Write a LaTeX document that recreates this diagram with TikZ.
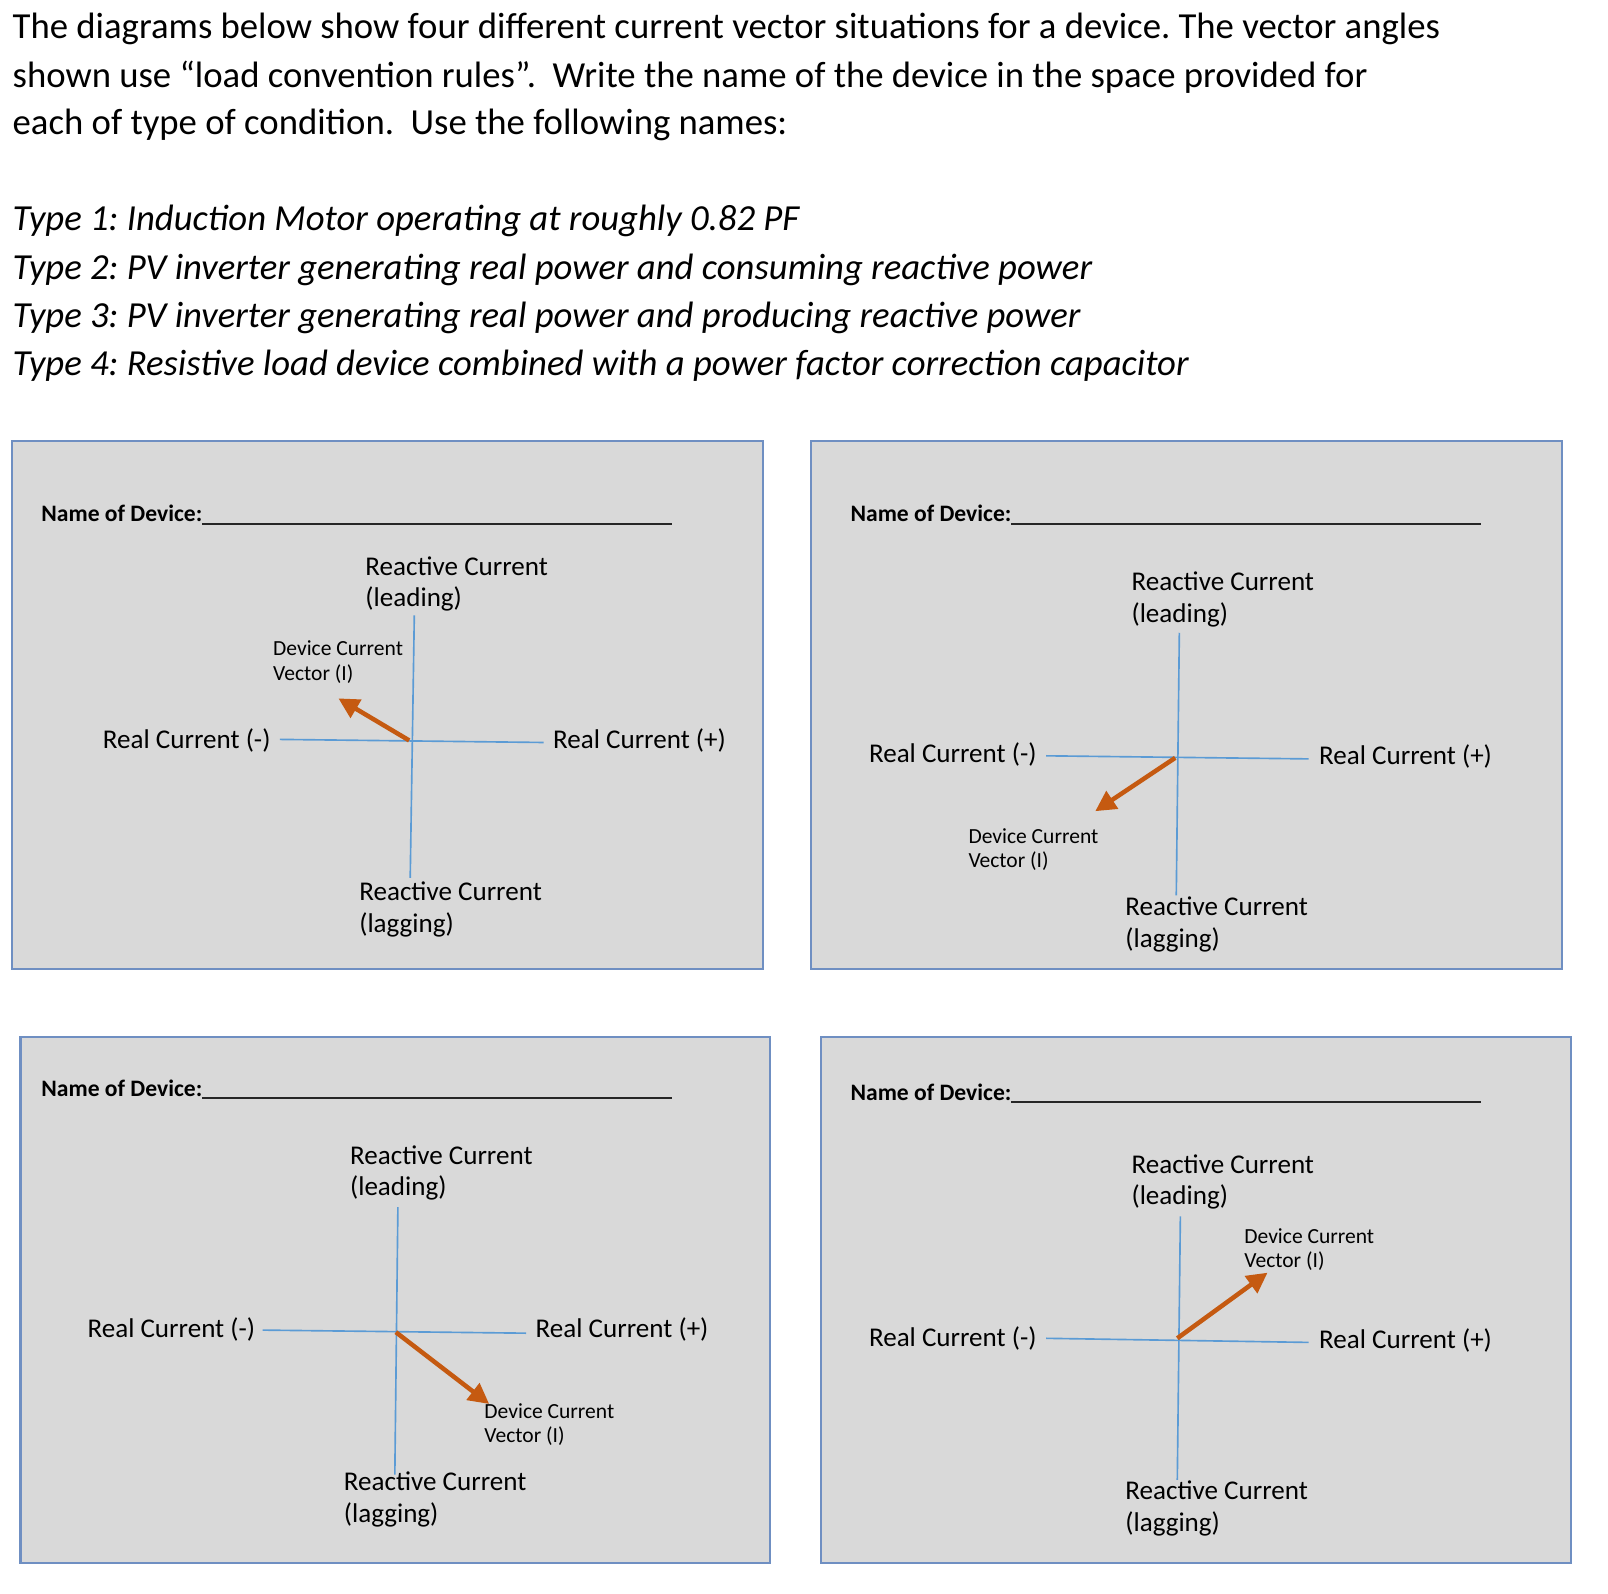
\documentclass[tikz,border=0pt]{standalone}
\usepackage{fontspec}
\setmainfont{Carlito}
\usetikzlibrary{arrows.meta}
\definecolor{panelfill}{HTML}{D9D9D9}
\definecolor{panelline}{HTML}{6F8FC2}
\definecolor{axisblue}{HTML}{5B9BD5}
\definecolor{vecorange}{HTML}{C55A11}
\begin{document}
\frenchspacing
\begin{tikzpicture}[x=0.5pt,y=-0.5pt,
  body/.style={anchor=west,inner sep=0,font=\fontsize{17.9}{21}\selectfont},
  bodyit/.style={anchor=west,inner sep=0,font=\fontsize{17.9}{21}\selectfont\itshape},
  panel/.style={draw=panelline,line width=1pt,fill=panelfill},
  lbl/.style={anchor=west,inner sep=0,font=\fontsize{13.2}{16}\selectfont},
  devlbl/.style={anchor=west,inner sep=0,font=\fontsize{10.5}{12}\selectfont},
  namelbl/.style={anchor=west,inner sep=0,font=\bfseries\fontsize{11.5}{14}\selectfont},
  uline/.style={draw=black!85,line width=1pt},
  axis/.style={draw=axisblue,line width=0.8pt},
  vec/.style={draw=vecorange,line width=2.2pt,-{Triangle[length=10pt,width=10pt]}}]
\fill[white] (0,0) rectangle (1568,1554);
\useasboundingbox (0,0) rectangle (1568,1554);

% ---------- intro text ----------
\node[body] (t1) at (12,28) {The diagrams below show four different current vector situations for a device. The vector angles};
\node[body] (t2) at (12,75) {shown use “load convention rules”.\ \ Write the name of the device in the space provided for};
\node[body] (t3) at (12,122) {each of type of condition.\ \ Use the following names:};
\node[bodyit] (ty1) at (12,215) {Type 1: Induction Motor operating at roughly 0.82 PF};
\node[bodyit] (ty2) at (12,263) {Type 2: PV inverter generating real power and consuming reactive power};
\node[bodyit] (ty3) at (12,310) {Type 3: PV inverter generating real power and producing reactive power};
\node[bodyit] (ty4) at (12,357) {Type 4: Resistive load device combined with a power factor correction capacitor};

% ---------- panel 1 ----------
\draw[panel] (12,430) rectangle (744,945);
\node[namelbl] (n1) at (40,501) {Name of Device:};
\coordinate (u1a) at (197,511); \coordinate (u1b) at (655,511);
\draw[uline] (u1a) -- (u1b);
\coordinate (a1t) at (404,600); \coordinate (a1b) at (400,856);
\coordinate (a1l) at (273,721); \coordinate (a1r) at (530,724);
\draw[axis] (a1t) -- (a1b);
\draw[axis] (a1l) -- (a1r);
\node[lbl] (p1la) at (356,552) {Reactive Current};
\node[lbl] (p1lb) at (356,584) {(leading)};
\node[lbl] (p1ga) at (350,869) {Reactive Current};
\node[lbl] (p1gb) at (350,902) {(lagging)};
\node[lbl] (p1m) at (100,722) {Real Current (-)};
\node[lbl] (p1p) at (539,722) {Real Current (+)};
\node[devlbl] (p1da) at (266,632) {Device Current};
\node[devlbl] (p1db) at (266,657) {Vector (I)};
\coordinate (o1) at (399,722); \coordinate (v1) at (330,681);
\draw[vec] (o1) -- (v1);

% ---------- panel 2 ----------
\draw[panel] (791,430) rectangle (1523,945);
\node[namelbl] (n2) at (829,501) {Name of Device:};
\coordinate (u2a) at (986,511); \coordinate (u2b) at (1444,511);
\draw[uline] (u2a) -- (u2b);
\coordinate (a2t) at (1150,617); \coordinate (a2b) at (1147,873);
\coordinate (a2l) at (1020,737); \coordinate (a2r) at (1276,740);
\draw[axis] (a2t) -- (a2b);
\draw[axis] (a2l) -- (a2r);
\node[lbl] (p2la) at (1103,567) {Reactive Current};
\node[lbl] (p2lb) at (1103,600) {(leading)};
\node[lbl] (p2ga) at (1097,884) {Reactive Current};
\node[lbl] (p2gb) at (1097,917) {(lagging)};
\node[lbl] (p2m) at (847,736) {Real Current (-)};
\node[lbl] (p2p) at (1286,738) {Real Current (+)};
\node[devlbl] (p2da) at (944,815) {Device Current};
\node[devlbl] (p2db) at (944,840) {Vector (I)};
\coordinate (o2) at (1146,739); \coordinate (v2) at (1068,791);
\draw[vec] (o2) -- (v2);

% ---------- panel 3 ----------
\draw[panel] (20,1011) rectangle (751,1524);
\node[namelbl] (n3) at (40,1061) {Name of Device:};
\coordinate (u3a) at (197,1071); \coordinate (u3b) at (655,1071);
\draw[uline] (u3a) -- (u3b);
\coordinate (a3t) at (388,1177); \coordinate (a3b) at (385,1438);
\coordinate (a3l) at (256,1297); \coordinate (a3r) at (513,1300);
\draw[axis] (a3t) -- (a3b);
\draw[axis] (a3l) -- (a3r);
\node[lbl] (p3la) at (341,1126) {Reactive Current};
\node[lbl] (p3lb) at (341,1158) {(leading)};
\node[lbl] (p3ga) at (335,1444) {Reactive Current};
\node[lbl] (p3gb) at (335,1477) {(lagging)};
\node[lbl] (p3m) at (85,1296) {Real Current (-)};
\node[lbl] (p3p) at (522,1296) {Real Current (+)};
\node[devlbl] (p3da) at (472,1376) {Device Current};
\node[devlbl] (p3db) at (472,1400) {Vector (I)};
\coordinate (o3) at (386,1299); \coordinate (v3) at (477,1369);
\draw[vec] (o3) -- (v3);

% ---------- panel 4 ----------
\draw[panel] (801,1011) rectangle (1532,1524);
\node[namelbl] (n4) at (829,1065) {Name of Device:};
\coordinate (u4a) at (986,1075); \coordinate (u4b) at (1444,1075);
\draw[uline] (u4a) -- (u4b);
\coordinate (a4t) at (1151,1186); \coordinate (a4b) at (1148,1443);
\coordinate (a4l) at (1020,1305); \coordinate (a4r) at (1276,1309);
\draw[axis] (a4t) -- (a4b);
\draw[axis] (a4l) -- (a4r);
\node[lbl] (p4la) at (1103,1135) {Reactive Current};
\node[lbl] (p4lb) at (1103,1167) {(leading)};
\node[lbl] (p4ga) at (1097,1453) {Reactive Current};
\node[lbl] (p4gb) at (1097,1486) {(lagging)};
\node[lbl] (p4m) at (847,1305) {Real Current (-)};
\node[lbl] (p4p) at (1286,1307) {Real Current (+)};
\node[devlbl] (p4da) at (1213,1205) {Device Current};
\node[devlbl] (p4db) at (1213,1230) {Vector (I)};
\coordinate (o4) at (1148,1305); \coordinate (v4) at (1236,1241);
\draw[vec] (o4) -- (v4);
\end{tikzpicture}
\end{document}
